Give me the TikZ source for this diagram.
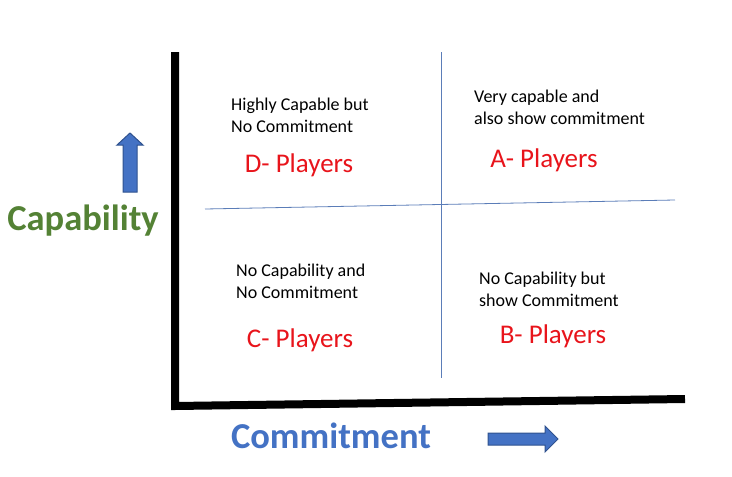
\documentclass[tikz,border=0pt]{standalone}
\usepackage{fontspec}
\setmainfont{Carlito}
\begin{document}
\begin{tikzpicture}[x=1pt,y=-1pt,
  small/.style={font=\fontsize{18}{22}\selectfont, anchor=west, align=left, inner sep=0pt},
  grade/.style={font=\fontsize{27}{30}\selectfont, text=redtxt, inner sep=0pt},
  axlabel/.style={font=\bfseries\fontsize{36.5}{40}\selectfont, inner sep=0pt},
  blockarrow/.style={fill=arrowblue, draw=arrowedge, line width=1pt, line join=miter},
  axis/.style={line width=8pt, black},
  divider/.style={line width=0.8pt, draw=divblue}]
\definecolor{redtxt}{HTML}{E8141B}
\definecolor{arrowblue}{HTML}{4472C4}
\definecolor{arrowedge}{HTML}{2F528F}
\definecolor{divblue}{HTML}{5B7DB8}
\definecolor{capgreen}{HTML}{548235}
\definecolor{comblue}{HTML}{4472C4}
\useasboundingbox (0,0) rectangle (732,477);
% axes
\coordinate (top) at (175,52);
\coordinate (corner) at (175,406);
\coordinate (right) at (685,399);
\draw[axis, line join=miter] (top) -- (corner) -- (right);
% dividers
\coordinate (hl) at (205,209);
\coordinate (hr) at (675,200);
\coordinate (vt) at (441,52);
\coordinate (vb) at (441,378);
\draw[divider] (hl) -- (hr);
\draw[divider] (vt) -- (vb);
% arrows
\draw[blockarrow] (123,192) -- (123,145) -- (117,145) -- (130,133) -- (143,145) -- (137,145) -- (137,192) -- cycle;
\draw[blockarrow] (488,433) -- (545,433) -- (545,426) -- (558,439) -- (545,452) -- (545,445) -- (488,445) -- cycle;
% axis labels
\node[axlabel, text=capgreen] (cap) at (83,221) {Capability};
\node[axlabel, text=comblue] (com) at (331,436) {Commitment};
% quadrant texts
\node[small] (dtxt) at (231,115) {Highly Capable but\\No Commitment};
\node[small] (atxt) at (474,107) {Very capable and\\also show commitment};
\node[small] (ctxt) at (236,281) {No Capability and\\No Commitment};
\node[small] (btxt) at (479,289) {No Capability but\\show Commitment};
\node[grade] (d) at (299,165) {D- Players};
\node[grade] (a) at (544,160) {A- Players};
\node[grade] (c) at (300,340) {C- Players};
\node[grade] (b) at (553,336) {B- Players};
\end{tikzpicture}
\end{document}
